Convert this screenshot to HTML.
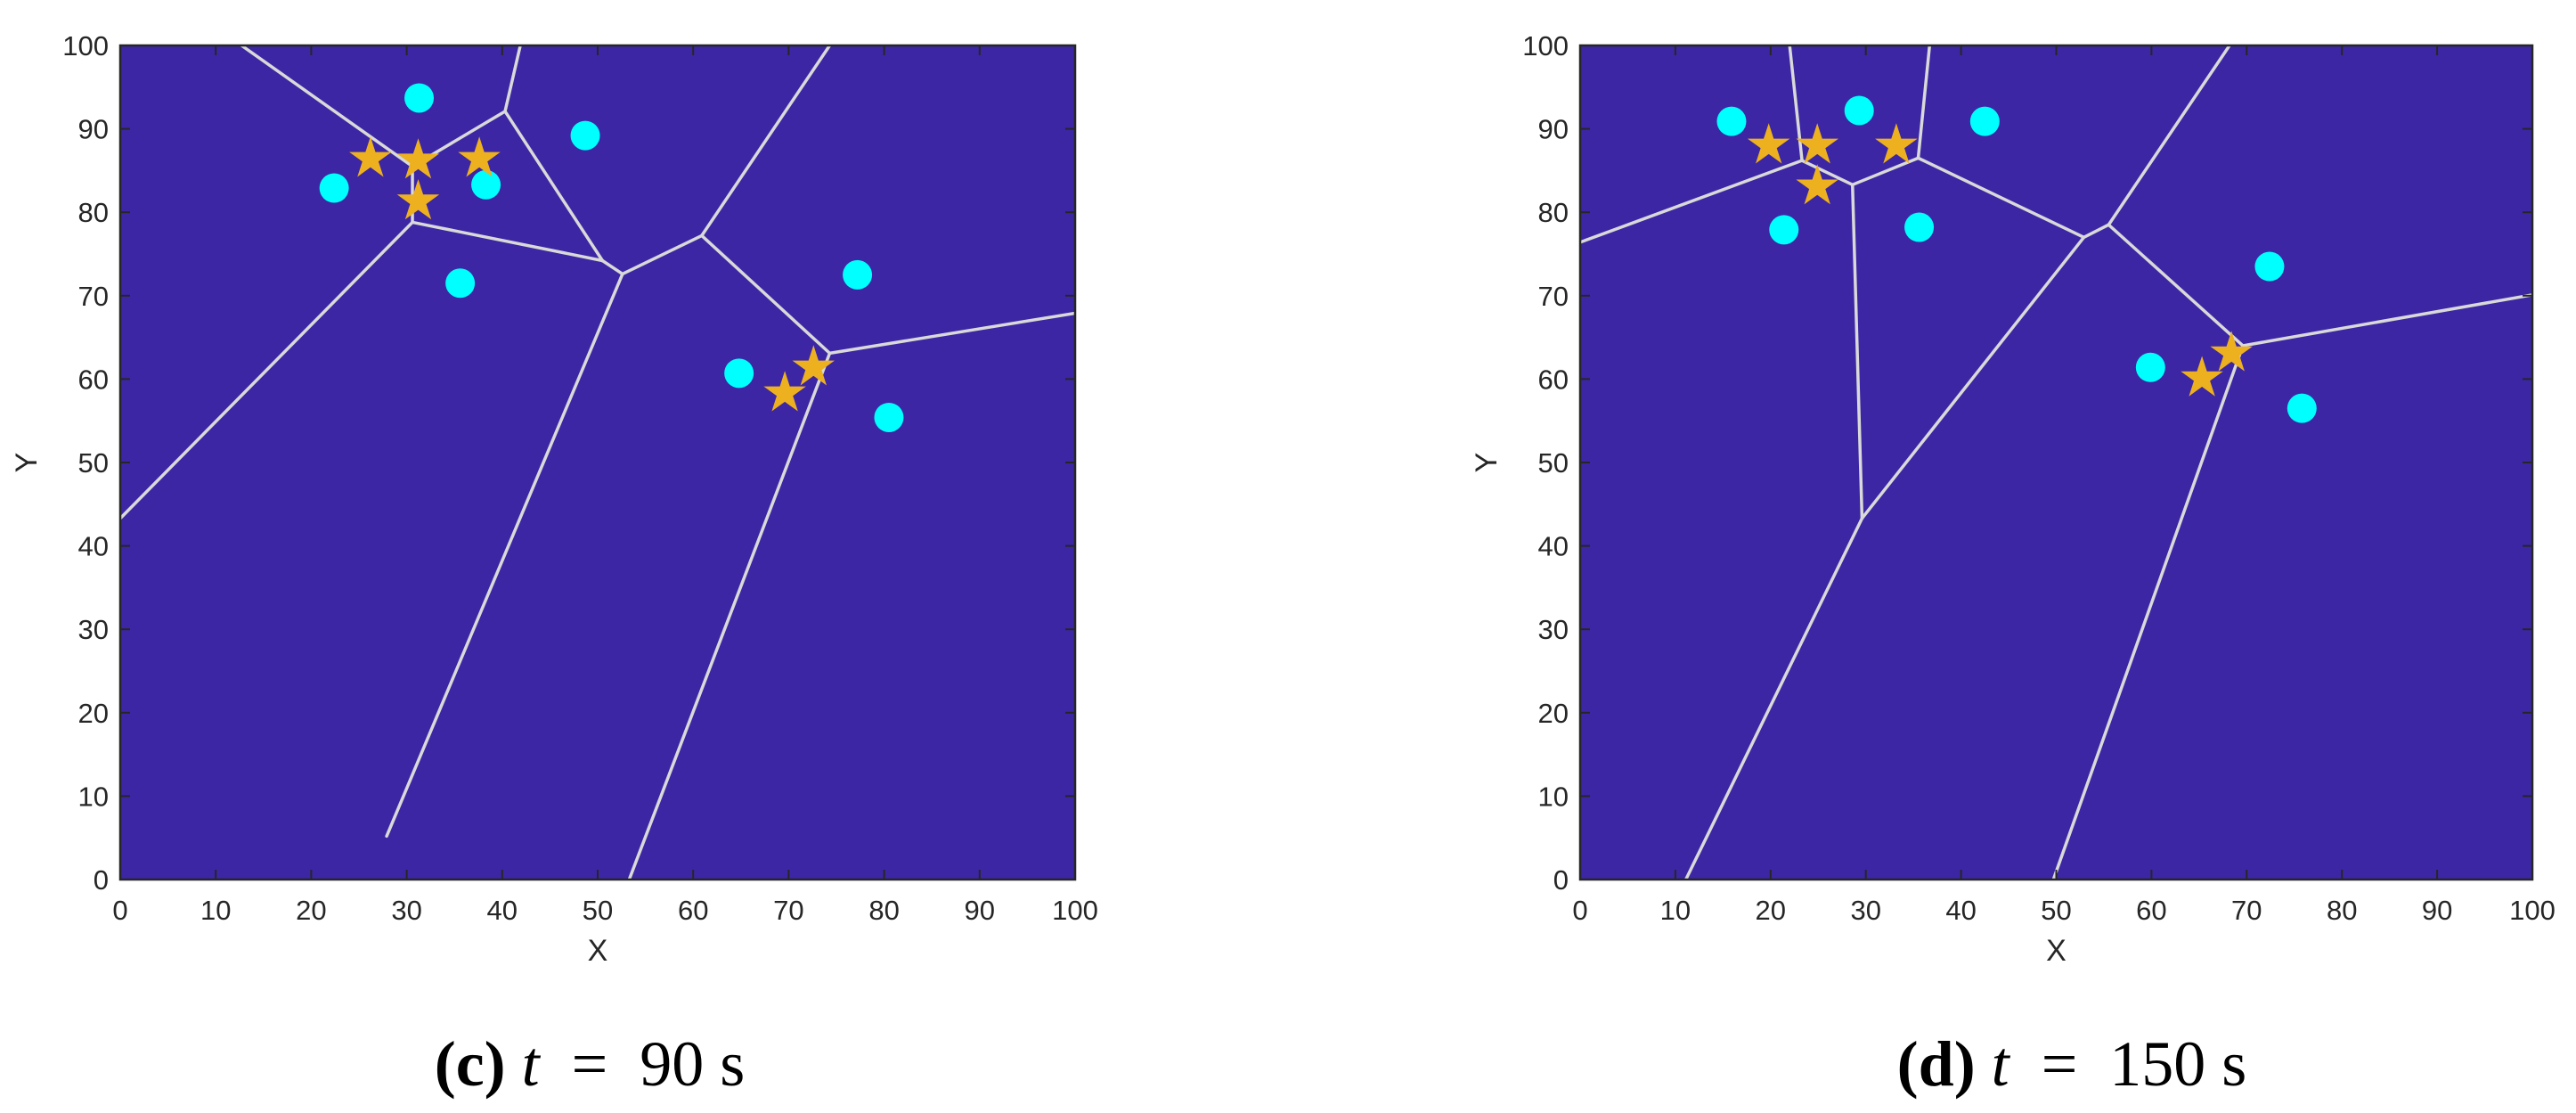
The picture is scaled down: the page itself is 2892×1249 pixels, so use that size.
<!DOCTYPE html>
<html><head><meta charset="utf-8"><style>
body{margin:0;background:#fff;}
svg{display:block;}
.tk{font-family:"Liberation Sans",sans-serif;font-size:31px;fill:#262626;}
.ttl{font-family:"Liberation Sans",sans-serif;font-size:34px;fill:#262626;}
.cap{font-family:"Liberation Serif",serif;font-size:72px;fill:#000;}
</style></head><body>
<svg id="fig" width="2892" height="1249" xmlns="http://www.w3.org/2000/svg">
<defs>
<clipPath id="clip-c"><rect x="135" y="51" width="1072" height="936"/></clipPath>
<clipPath id="clip-d"><rect x="1774" y="51" width="1069" height="936"/></clipPath>
</defs>
<text class="cap" x="662" y="1218" text-anchor="middle" xml:space="preserve"><tspan font-weight="bold">(c)</tspan> <tspan font-style="italic">t</tspan>  =  90 s</text>
<text class="cap" x="2326" y="1218" text-anchor="middle" xml:space="preserve"><tspan font-weight="bold">(d)</tspan> <tspan font-style="italic">t</tspan>  =  150 s</text>
</svg>
<script>
const ticks=[0,10,20,30,40,50,60,70,80,90,100];
// panel c
const edgesC=[[[12.7,100],[30.6,85.5]],[[30.6,85.5],[30.6,78.8]],[[30.6,85.5],[40.3,92.1]],[[40.3,92.1],[41.9,100]],[[40.3,92.1],[50.5,74.2]],[[30.6,78.8],[0,43.3]],[[30.6,78.8],[50.5,74.2]],[[50.5,74.2],[52.6,72.6]],[[52.6,72.6],[60.9,77.2]],[[60.9,77.2],[74.3,100]],[[60.9,77.2],[74.3,63.1]],[[74.3,63.1],[100,67.9]],[[74.3,63.1],[53.3,0]],[[52.6,72.6],[27.9,5.2]]];
const targetsXC=[31.3,48.7,22.4,38.3,35.6,77.2,64.8,80.5];
const targetsYC=[93.7,89.2,82.9,83.3,71.5,72.5,60.7,55.4];
const agentsXC=[26.2,31.2,37.6,31.2,69.6,72.6];
const agentsYC=[86.4,86.2,86.4,81.3,58.3,61.4];
// panel d
const edgesD=[[[23.3,86.2],[22.0,100]],[[23.3,86.2],[0,76.4]],[[23.3,86.2],[28.6,83.3]],[[28.6,83.3],[35.5,86.5]],[[28.6,83.3],[29.6,43.3]],[[35.5,86.5],[36.7,100]],[[35.5,86.5],[52.9,77]],[[52.9,77],[55.5,78.5]],[[52.9,77],[29.6,43.3]],[[29.6,43.3],[11.1,0]],[[55.5,78.5],[68.2,100]],[[55.5,78.5],[69.6,64]],[[69.6,64],[100,70.1]],[[69.6,64],[49.7,0]]];
const targetsXD=[15.9,29.3,42.5,21.4,35.6,72.4,59.9,75.8];
const targetsYD=[90.9,92.2,90.9,77.9,78.2,73.5,61.4,56.5];
const agentsXD=[19.8,24.9,33.2,24.9,65.3,68.4];
const agentsYD=[88.0,88.0,88.0,83.1,60.1,63.1];

const NS="http://www.w3.org/2000/svg";
const svg=document.getElementById('fig');
function mk(t,a,p){const e=document.createElementNS(NS,t);for(const k in a)e.setAttribute(k,a[k]);(p||svg).appendChild(e);return e;}
function star(cx,cy,R){const r=R*0.382;let pts=[];for(let i=0;i<10;i++){const a=-Math.PI/2+i*Math.PI/5;const rr=i%2?r:R;pts.push((cx+rr*Math.cos(a)).toFixed(1)+','+(cy+rr*Math.sin(a)).toFixed(1));}return pts.join(' ');}
function panel(id,L,R,T,B,edges,tx,ty,ax,ay){
  const sx=v=>L+(R-L)*v/100, sy=v=>B-(B-T)*v/100;
  const g=mk('g',{});
  
  
  const bg=mk('rect',{x:L,y:T,width:R-L,height:B-T,fill:'#3c26a4'},g);
  
  
  const eg=mk('g',{'clip-path':'url(#clip-'+id+')'},g);
  
  
  edges.forEach(e=>{const l=mk('line',{x1:sx(e[0][0]),y1:sy(e[0][1]),x2:sx(e[1][0]),y2:sy(e[1][1]),stroke:'#d9d9d9','stroke-width':3.5,'stroke-linecap':'round'},eg);
    
    });
  tx.forEach((x,i)=>{const c=mk('circle',{cx:sx(x),cy:sy(ty[i]),r:16.5,fill:'#00ffff'},g);
    
    });
  ax.forEach((x,i)=>{const s=mk('polygon',{points:star(sx(x),sy(ay[i]),25),fill:'#edb120'},g);
    
    });
  ticks.forEach(t=>{
    const X=sx(t),Y=sy(t);
    mk('line',{x1:X,y1:B,x2:X,y2:B-11,stroke:'#262626','stroke-width':2},g);
    mk('line',{x1:X,y1:T,x2:X,y2:T+11,stroke:'#262626','stroke-width':2},g);
    mk('line',{x1:L,y1:Y,x2:L+11,y2:Y,stroke:'#262626','stroke-width':2},g);
    mk('line',{x1:R,y1:Y,x2:R-11,y2:Y,stroke:'#262626','stroke-width':2},g);
    const xl=mk('text',{x:X,y:B+45,'text-anchor':'middle',class:'tk'},g);xl.textContent=t;
    
    
    const yl=mk('text',{x:L-13,y:Y+11,'text-anchor':'end',class:'tk'},g);yl.textContent=t;
    
    
  });
  const fr=mk('rect',{x:L,y:T,width:R-L,height:B-T,fill:'none',stroke:'#262626','stroke-width':2.5},g);
  
  
  const xt=mk('text',{x:(L+R)/2,y:B+91,'text-anchor':'middle',class:'ttl'},g);xt.textContent='X';
  
  
  const yc=(T+B)/2, yx=L-94;
  const yt=mk('text',{x:yx,y:yc,'text-anchor':'middle',class:'ttl',transform:`rotate(-90 ${yx} ${yc})`},g);yt.textContent='Y';
  
  
}
panel('c',135,1207,51,987,edgesC,targetsXC,targetsYC,agentsXC,agentsYC);
panel('d',1774,2843,51,987,edgesD,targetsXD,targetsYD,agentsXD,agentsYD);
</script>
</body></html>
